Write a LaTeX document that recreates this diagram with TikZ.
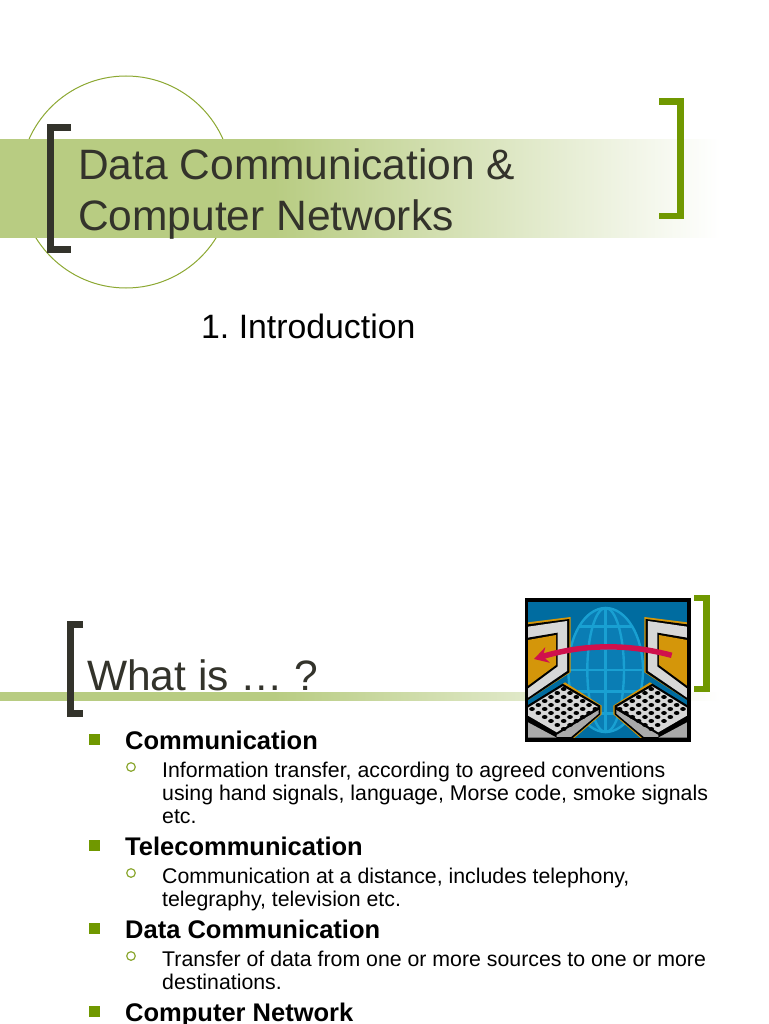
\documentclass[tikz,border=0pt]{standalone}
\usepackage{fontspec}
\setmainfont{Liberation Sans}
\usetikzlibrary{positioning,arrows.meta}
\definecolor{slidegreen}{RGB}{184,204,130}
\definecolor{markgreen}{RGB}{112,152,0}
\definecolor{ringgreen}{RGB}{140,168,50}
\definecolor{titlegray}{RGB}{51,51,43}
\definecolor{artblue}{RGB}{0,108,160}
\definecolor{globeblue}{RGB}{10,125,180}
\definecolor{gridblue}{RGB}{25,160,210}
\definecolor{screenamber}{RGB}{212,150,10}
\definecolor{framegray}{RGB}{215,215,215}
\definecolor{basegray}{RGB}{170,170,170}
\definecolor{arrowred}{RGB}{208,16,76}
\pgfdeclarehorizontalshading{barfade}{100bp}{color(0bp)=(slidegreen); color(44bp)=(slidegreen); color(75bp)=(white); color(100bp)=(white)}
\tikzset{
    titletext/.style={anchor=base west, inner sep=0pt, align=left, text=titlegray, font=\frenchspacing\fontsize{42.5}{51}\selectfont},
    subtitle/.style={anchor=base west, inner sep=0pt, font=\frenchspacing\fontsize{33.8}{40}\selectfont},
    headtext/.style={anchor=base west, inner sep=0pt, font=\fontsize{25.5}{30}\selectfont\bfseries},
    bodytext/.style={anchor=base west, inner sep=0pt, align=left, font=\frenchspacing\fontsize{21.3}{23}\selectfont},
    darkbracket/.style={draw=titlegray, line width=7pt, miter limit=10},
    greenbracket/.style={draw=markgreen, line width=6.5pt, miter limit=10},
    squaremark/.style={fill=markgreen},
    ringmark/.style={draw=ringgreen, line width=1.2pt, fill=white},
    gridline/.style={draw=gridblue, line width=2.4pt}
}
\newcommand{\laptopart}{%
    \fill[screenamber] (54,112) -- (182,96) -- (182,262) -- (54,345) -- cycle;
    \fill[black] (54,118) -- (178,102) -- (178,262) -- (54,345) -- cycle;
    \fill[framegray] (54,125) -- (171,108) -- (171,258) -- (54,338) -- cycle;
    \fill[black] (54,158) -- (143,143) -- (143,244) -- (54,310) -- cycle;
    \fill[screenamber] (54,165) -- (138,150) -- (138,240) -- (54,302) -- cycle;
    \fill[screenamber] (165,292) -- (275,362) -- (275,388) -- (192,460) -- (54,460) -- (54,370) -- cycle;
    \fill[black] (158,296) -- (271,362) -- (271,388) -- (187,460) -- (54,460) -- (54,360) -- cycle;
    \fill[basegray] (54,412) -- (140,458) -- (54,458) -- cycle;
    \fill[basegray] (140,450) -- (266,375) -- (266,386) -- (183,456) -- (140,456) -- cycle;
    \fill[framegray] (54,368) -- (158,304) -- (264,366) -- (140,442) -- (54,392) -- cycle;
    \foreach \rowi in {0,...,5}{
        \foreach \coli in {0,...,5}{
            \fill[black] ({66+\coli*19+\rowi*19},{372-\coli*12+\rowi*12}) ellipse (8.5 and 6);
        }
    }
}
\begin{document}
\begin{tikzpicture}[x=1pt,y=-1pt]
    \useasboundingbox (0,0) rectangle (768,1024);
    % Title slide
    \draw[ringgreen, line width=1pt] (126,182) circle (106);
    \shade[shading=barfade] (0,140) rectangle (720,237);
    \draw[darkbracket] (71,127.5) -- (50.5,127.5) -- (50.5,249.5) -- (71,249.5);
    \draw[greenbracket] (659,101.5) -- (680.5,101.5) -- (680.5,216) -- (659,216);
    \node[titletext] (title) at (78,230) {Data Communication \&\\Computer Networks};
    \node[subtitle] (intro) at (201,338) {1. Introduction};
    % Second slide
    \shade[shading=barfade] (0,692) rectangle (720,700);
    \draw[darkbracket] (83,624) -- (70.5,624) -- (70.5,713) -- (83,713);
    \draw[greenbracket] (694,598) -- (706.5,598) -- (706.5,689) -- (694,689);
    \node[titletext] (whatis) at (87,690) {What is … ?};
    % Clip art
    \begin{scope}[shift={(510,585)},x=0.3333pt,y=-0.3333pt]
        \fill[black] (44,40) rectangle (544,472);
        \fill[artblue] (54,50) rectangle (530,458);
        \fill[globeblue] (287,255) ellipse (112 and 186);
        \begin{scope}
            \clip (287,255) ellipse (112 and 186);
            \foreach \gridy in {125,190,255,320,385}{
                \draw[gridline] (170,\gridy) -- (404,\gridy);
            }
        \end{scope}
        \draw[gridline] (287,69) -- (287,441);
        \draw[gridline] (287,255) ellipse (112 and 186);
        \draw[gridline] (287,255) ellipse (55 and 186);
        \laptopart
        \begin{scope}[shift={(585,0)},xscale=-1]
            \laptopart
        \end{scope}
        \draw[arrowred, line width=5.5pt, -{Stealth[length=14pt,width=16pt]}] (485,211) .. controls (350,175) and (220,178) .. (72,222);
        \fill[black] (44,40) rectangle (54,472);
        \fill[black] (44,458) rectangle (544,472);
        \fill[black] (530,40) rectangle (544,472);
    \end{scope}
    % Bullets
    \fill[squaremark] (89,734) rectangle (100,745);
    \node[headtext] (comm) at (125,749) {Communication};
    \draw[ringmark] (131,767) circle (4.3);
    \node[bodytext] (commtext) at (162,823) {Information transfer, according to agreed conventions\\using hand signals, language, Morse code, smoke signals\\etc.};
    \fill[squaremark] (89,840) rectangle (100,851);
    \node[headtext] (tele) at (125,855) {Telecommunication};
    \draw[ringmark] (131,873) circle (4.3);
    \node[bodytext] (teletext) at (162,906) {Communication at a distance, includes telephony,\\telegraphy, television etc.};
    \fill[squaremark] (89,923) rectangle (100,934);
    \node[headtext] (data) at (125,938) {Data Communication};
    \draw[ringmark] (131,956) circle (4.3);
    \node[bodytext] (datatext) at (162,989) {Transfer of data from one or more sources to one or more\\destinations.};
    \fill[squaremark] (89,1006) rectangle (100,1017);
    \node[headtext] (net) at (125,1021) {Computer Network};
\end{tikzpicture}
\end{document}
